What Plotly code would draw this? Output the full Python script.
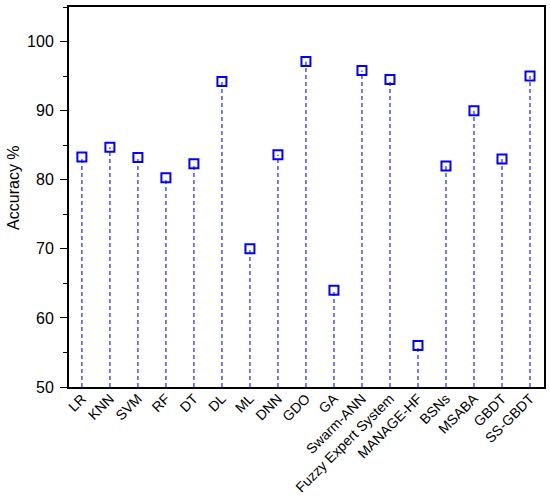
import plotly.graph_objects as go

models = ["LR", "KNN", "SVM", "RF", "DT", "DL", "ML", "DNN", "GDO", "GA",
          "Swarm-ANN", "Fuzzy Expert System", "MANAGE-HF", "BSNs", "MSABA",
          "GBDT", "SS-GBDT"]
accuracy = [83.3, 84.7, 83.2, 80.3, 82.3, 94.2, 70.0, 83.6, 97.1, 64.0,
            95.8, 94.5, 56.0, 82.0, 90.0, 83.0, 95.0]
base = 50

# drop lines from the axis floor up to each point
line_x, line_y = [], []
for m, v in zip(models, accuracy):
    line_x += [m, m, None]
    line_y += [base, v, None]

fig = go.Figure()
fig.add_trace(go.Scatter(
    x=line_x, y=line_y, mode="lines",
    line=dict(color="#4d4dff", width=1.5, dash="4px,3px"),
    hoverinfo="skip", showlegend=False,
))
fig.add_trace(go.Scatter(
    x=models, y=accuracy, mode="markers",
    marker=dict(symbol="square-open", size=9, color="#0000ff",
                line=dict(width=2, color="#0000ff")),
    showlegend=False,
))

fig.update_layout(
    width=550, height=496,
    margin=dict(l=69, r=6, t=7, b=109),
    plot_bgcolor="white", paper_bgcolor="white",
    font=dict(family="Liberation Sans, Arial, sans-serif", color="black"),
    xaxis=dict(
        type="category", range=[-0.46, len(models) - 0.5],
        showgrid=False, zeroline=False, automargin=False,
        showline=True, linecolor="black", linewidth=2, mirror=True,
        ticks="", tickangle=-45, tickfont=dict(size=14),
        ticklabelstandoff=-4,
    ),
    yaxis=dict(
        range=[50, 105], tickvals=[50, 60, 70, 80, 90, 100],
        showgrid=False, zeroline=False, automargin=False,
        showline=True, linecolor="black", linewidth=2, mirror=True,
        ticks="outside", ticklen=7, tickwidth=1.3, tickcolor="black",
        tickfont=dict(size=16), ticklabelstandoff=3,
        minor=dict(tickvals=[55, 65, 75, 85, 95, 105], ticks="outside",
                   ticklen=4, tickwidth=1.3, tickcolor="black"),
    ),
    annotations=[dict(
        text="Accuracy %", xref="paper", yref="paper",
        x=(14 - 69) / 475, y=0.524, xanchor="center", yanchor="middle",
        textangle=-90, showarrow=False, font=dict(size=16),
    )],
)

# drop the page's default body margin so the figure fills the window
fig.write_html("out.html", config={"displayModeBar": False},
               post_script="document.body.style.margin = '0';")
